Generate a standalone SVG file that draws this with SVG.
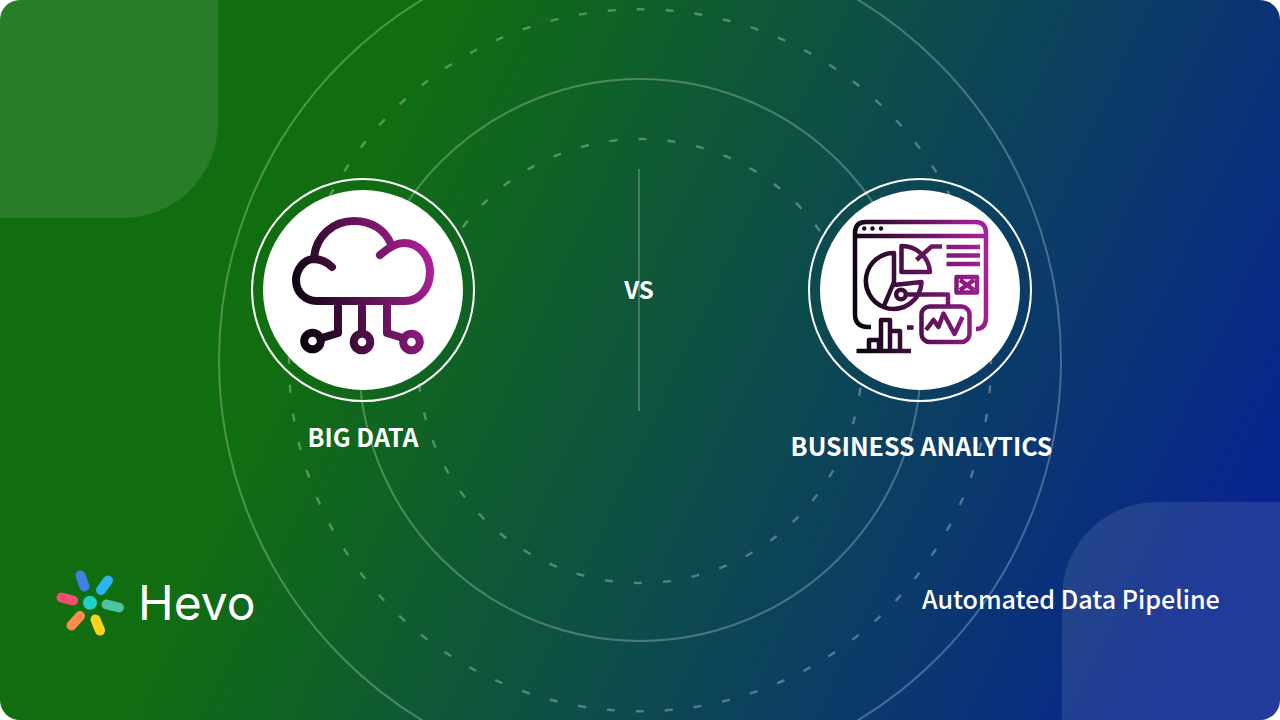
<svg xmlns="http://www.w3.org/2000/svg" width="1280" height="720" viewBox="0 0 1280 720">
<style>
.ring{fill:none;stroke:#fff;stroke-opacity:.26;stroke-width:2}
.dash{fill:none;stroke:#fff;stroke-opacity:.3;stroke-width:2.400}
.lbl{font-family:"Noto Sans CJK SC","Noto Sans",sans-serif;fill:#fff;font-weight:700}
.ic{fill:none;stroke:url(#g2);stroke-width:4.500;stroke-linecap:butt;stroke-linejoin:round}
.ic1{fill:none;stroke:url(#g1);stroke-width:8;stroke-linecap:round;stroke-linejoin:round}
.petal{stroke-width:10;stroke-linecap:round;fill:none}
</style>
<defs>
<linearGradient id="bg" gradientUnits="userSpaceOnUse" x1="385" y1="130" x2="1240" y2="530"><stop offset="0" stop-color="#116e10"/><stop offset="1" stop-color="#08258f"/></linearGradient>
<linearGradient id="g1" gradientUnits="userSpaceOnUse" x1="295" y1="300" x2="434" y2="260"><stop offset="0" stop-color="#0c0410"/><stop offset="1" stop-color="#b0209b"/></linearGradient>
<linearGradient id="g2" gradientUnits="userSpaceOnUse" x1="855" y1="290" x2="986" y2="270"><stop offset="0" stop-color="#0c0410"/><stop offset="1" stop-color="#a8209a"/></linearGradient>
<clipPath id="card"><rect width="1280" height="720" rx="20"/></clipPath>
</defs>
<rect width="1280" height="720" fill="#fff"/>
<g clip-path="url(#card)">
<rect id="background" width="1280" height="720" fill="url(#bg)"/>
<path id="corner-tl" d="M0 0H218V123A95 95 0 0 1 123 218H0Z" fill="#fff" fill-opacity=".1"/>
<path id="corner-br" d="M1280 720H1062V597A95 95 0 0 1 1157 502H1280Z" fill="#fff" fill-opacity=".1"/>
<g id="rings">
<circle class="ring" cx="640" cy="360" r="421"/>
<circle class="ring" cx="640" cy="360" r="281"/>
<circle class="dash" cx="640" cy="360.300" r="351" stroke-dasharray="8 21.018" stroke-dashoffset="4"/>
<circle class="dash" cx="640" cy="361" r="222" stroke-dasharray="8 21.060" stroke-dashoffset="2"/>
</g>
</g>
<g id="connectors"><line x1="639" y1="169" x2="639" y2="411" stroke="#fff" stroke-opacity=".3" stroke-width="1.500"/></g>
<g id="node-big-data">
<circle cx="363" cy="290" r="111" fill="none" stroke="#fff" stroke-width="2"/>
<circle cx="363" cy="290" r="100" fill="#fff"/>
<path class="ic1" d="M332 267C327 262 320 259 313 259C302 260 296 272 296 280C296 292 305 301 317 301H405C419 301 430 289 430 272C430 256 419 243 404 243C396 243 388 248 380 255M314 258C316 236 333 221 354 221C372 221 385 230 391 244"/>
<path class="ic1" d="M338 301V333L322 338M362 301V333M387 301V333L403 338" stroke-linecap="butt"/>
<circle class="ic1" cx="312.500" cy="341" r="8.300"/>
<circle class="ic1" cx="362" cy="342" r="8.300"/>
<circle class="ic1" cx="411.500" cy="342" r="8.300"/>
<text class="lbl" x="363" y="447" font-size="25" text-anchor="middle">BIG DATA</text>
</g>
<g id="node-vs"><text class="lbl" x="639" y="299" font-size="24" text-anchor="middle">VS</text></g>
<g id="node-business-analytics">
<circle cx="920" cy="290" r="111" fill="none" stroke="#fff" stroke-width="2"/>
<circle cx="920" cy="290" r="100" fill="#fff"/>
<path class="ic" d="M871 327H868Q855 327 855 314V233Q855 222 866 222H975Q986 222 986 233V317Q986 329 976 329M855 236H986"/>
<circle cx="864.300" cy="228.500" r="2.200" fill="#150612"/><circle cx="872.500" cy="228.500" r="2.200" fill="#1a0818"/><circle cx="881" cy="228.500" r="2.200" fill="#200a1e"/>
<path class="ic" d="M894 253V282L883.500 307A28 28 0 0 1 894 253ZM894 285L921.500 282A28 28 0 0 1 883.500 307M901.500 246V272H930A28 28 0 0 0 901.500 246ZM916.500 260L931.500 246.500H942M946.500 247H980M946.500 255.500H980M946.500 264H980"/>
<circle class="ic" cx="901" cy="294.500" r="4.800"/>
<path class="ic" d="M906 294.500H948V306M956.500 277H977V292.500H956.500ZM960 280L974 290M974 280L960 290M907 327.500H913.500"/>
<rect class="ic" x="921.500" y="306.500" width="48" height="35.500" rx="8"/>
<path class="ic" d="M926 330L933.500 320L938.500 327L943.500 313.500L954.500 334L962.500 317"/>
<path class="ic" d="M856.500 351H911M869 351V340H879V351M881 351V320H890V351M891.500 331H900V351"/>
<text class="lbl" x="921.500" y="456" font-size="25" text-anchor="middle">BUSINESS ANALYTICS</text>
</g>
<g id="logo">
<circle cx="90" cy="602.700" r="7" fill="#1fcfc8"/>
<line class="petal" x1="80.500" y1="575.500" x2="84.500" y2="586.500" stroke="#3f80e0"/>
<line class="petal" x1="108" y1="580.500" x2="101" y2="590" stroke="#29b6f0"/>
<line class="petal" x1="106.500" y1="604.500" x2="119" y2="607.500" stroke="#4fc3a0"/>
<line class="petal" x1="95.500" y1="619.500" x2="100" y2="630.500" stroke="#ffd21f"/>
<line class="petal" x1="80" y1="616" x2="71.500" y2="625.500" stroke="#ff8a50"/>
<line class="petal" x1="61.500" y1="597.500" x2="73" y2="600.500" stroke="#f4506e"/>
<text x="138" y="620" font-family="Inter,sans-serif" font-weight="400" font-size="48" fill="#fff">Hevo</text>
</g>
<g id="tagline"><text class="lbl" x="922" y="609" font-size="25.100" style="font-weight:500">Automated Data Pipeline</text></g>
</svg>
